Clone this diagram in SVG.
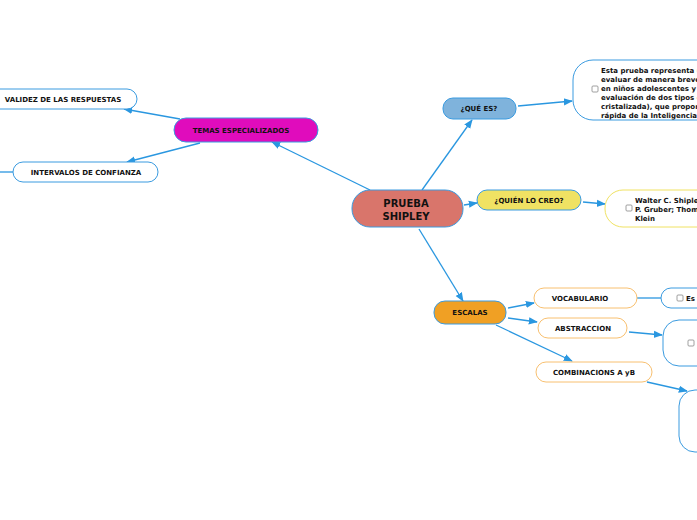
<svg xmlns="http://www.w3.org/2000/svg" width="697" height="520" viewBox="0 0 697 520">
<style>
text{font-family:"DejaVu Sans",Verdana,sans-serif;font-weight:bold;fill:#111}
.s{font-size:7px}
.l{fill:none;stroke:#2a97e0;stroke-width:1.3}
.w{fill:#fff;stroke:#3a9be0;stroke-width:1}
.o{fill:#fff;stroke:#f8c070;stroke-width:1}
.cb{fill:#fff;stroke:#888;stroke-width:0.8}
</style>
<defs><marker id="a" viewBox="0 0 10 10" refX="9" refY="5" markerWidth="7" markerHeight="7" orient="auto"><path d="M0,1L10,5L0,9z" fill="#2a97e0"/></marker></defs>
<rect width="697" height="520" fill="#fff"/>
<g id="connectors">
<path class="l" d="M370,190L272,142" marker-end="url(#a)"/>
<path class="l" d="M180,119L124,109" marker-end="url(#a)"/>
<path class="l" d="M200,143L127,162" marker-end="url(#a)"/>
<path class="l" d="M13,172L0,172"/>
<path class="l" d="M422,190L472,120" marker-end="url(#a)"/>
<path class="l" d="M518,106L572,101" marker-end="url(#a)"/>
<path class="l" d="M464,205L477,203" marker-end="url(#a)"/>
<path class="l" d="M583,202L605,204" marker-end="url(#a)"/>
<path class="l" d="M419,229L463,301" marker-end="url(#a)"/>
<path class="l" d="M508,308L534,303" marker-end="url(#a)"/>
<path class="l" d="M508,318L537,322" marker-end="url(#a)"/>
<path class="l" d="M496,325L572,361" marker-end="url(#a)"/>
<path class="l" d="M637,298L661,298"/>
<path class="l" d="M629,332L662,335" marker-end="url(#a)"/>
<path class="l" d="M647,382L687,391" marker-end="url(#a)"/>
</g>
<g id="center"><rect x="352" y="190" width="111" height="37" rx="18" fill="#d9756b" stroke="#3a9be0"/><text x="406" y="207" font-size="10" text-anchor="middle">PRUEBA</text><text x="406" y="220" font-size="10" text-anchor="middle">SHIPLEY</text></g>
<g id="quees"><rect x="443" y="98" width="73" height="21" rx="10" fill="#7fb3dc" stroke="#3a9be0"/><text class="s" x="479" y="111" text-anchor="middle">¿QUÉ ES?</text></g>
<g id="quien"><rect x="477" y="190" width="104" height="20" rx="10" fill="#f0e263" stroke="#3a9be0"/><text class="s" x="529" y="203" text-anchor="middle">¿QUIÉN LO CREO?</text></g>
<g id="escalas"><rect x="434" y="301" width="72" height="23" rx="11" fill="#f0a024" stroke="#3a9be0"/><text class="s" x="470" y="315" text-anchor="middle">ESCALAS</text></g>
<g id="temas"><rect x="174" y="118" width="144" height="24" rx="12" fill="#e00cbc" stroke="#3a9be0"/><text class="s" x="241" y="133" text-anchor="middle">TEMAS ESPECIALIZADOS</text></g>
<g id="validez"><rect class="w" x="-10" y="89" width="147" height="20" rx="10"/><text class="s" x="63" y="102" text-anchor="middle">VALIDEZ DE LAS RESPUESTAS</text></g>
<g id="intervalos"><rect class="w" x="13" y="162" width="145" height="20" rx="10"/><text class="s" x="86" y="175" text-anchor="middle">INTERVALOS DE CONFIANZA</text></g>
<g id="def"><rect class="w" x="573" y="60" width="150" height="60" rx="20"/><rect class="cb" x="592" y="86" width="6" height="6" rx="1"/>
<text class="s" x="601" y="73">Esta prueba representa un</text><text class="s" x="601" y="82">evaluar de manera breve y</text><text class="s" x="601" y="91">en niños adolescentes y ad</text><text class="s" x="601" y="100">evaluación de dos tipos de</text><text class="s" x="601" y="109">cristalizada), que proporci</text><text class="s" x="601" y="118" style="font-size:7px">rápida de la Inteligencia g</text></g>
<g id="walter"><rect x="605" y="190" width="110" height="37" rx="18" fill="#fff" stroke="#f0e263"/><rect class="cb" x="626" y="205" width="6" height="6" rx="1"/><text class="s" x="635" y="203">Walter C. Shiple</text><text class="s" x="635" y="212">P. Gruber; Thom</text><text class="s" x="635" y="221">Klein</text></g>
<g id="vocab"><rect class="o" x="534" y="288" width="103" height="20" rx="10"/><text class="s" x="580" y="301" text-anchor="middle">VOCABULARIO</text></g>
<g id="abstr"><rect class="o" x="538" y="318" width="89" height="20" rx="10"/><text class="s" x="583" y="331" text-anchor="middle">ABSTRACCION</text></g>
<g id="comb"><rect class="o" x="536" y="362" width="116" height="20" rx="10"/><text class="s" x="594" y="375" text-anchor="middle">COMBINACIONS A yB</text></g>
<g id="es"><rect class="w" x="661" y="288" width="60" height="20" rx="10"/><rect class="cb" x="677" y="295" width="6" height="6" rx="1"/><text class="s" x="686" y="301">Es</text></g>
<g id="abox"><rect class="w" x="663" y="320" width="60" height="46" rx="16"/><rect class="cb" x="688" y="340" width="6" height="6" rx="1"/></g>
<g id="cbox"><rect class="w" x="679" y="390" width="40" height="62" rx="16"/></g>
</svg>
